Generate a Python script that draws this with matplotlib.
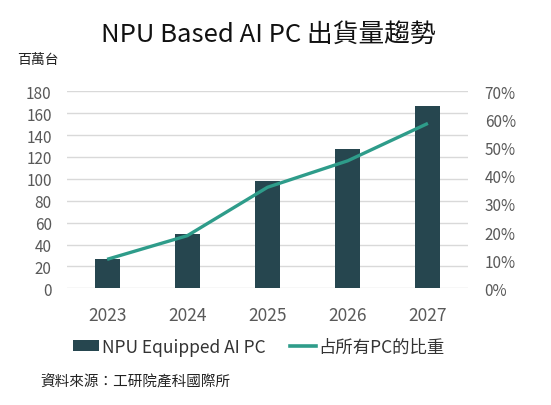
import matplotlib
matplotlib.use("Agg")
import matplotlib.pyplot as plt
from matplotlib.patches import Patch
from matplotlib.lines import Line2D

plt.rcParams['font.family'] = ['Noto Sans CJK TC', 'DejaVu Sans']

years = ["2023", "2024", "2025", "2026", "2027"]
shipments = [27, 50, 98, 127, 167]          # 百萬台
share = [10.3, 18.7, 35.9, 45.3, 58.6]      # %
left_ticks = [0, 20, 40, 60, 80, 100, 120, 140, 160, 180]
right_ticks = [0, 10, 20, 30, 40, 50, 60, 70]
right_labels = [f"{v}%" for v in right_ticks]

bar_color = "#26464F"
line_color = "#2E9C8A"
tick_color = "#595959"

fig = plt.figure(figsize=(5.51, 4.06), dpi=100)
ax = fig.add_axes([0.1216, 0.2874, 0.7278, 0.4853])
x = list(range(len(years)))
ax.bar(x, shipments, width=0.31, color=bar_color, zorder=3)
ax.set_xlim(-0.5, len(years) - 0.5)
ax.set_ylim(0, 180)
ax.set_yticks(left_ticks)
ax.set_xticks(x)
ax.set_xticklabels(years)
ax.grid(axis='y', color="#D9D9D9", linewidth=1.0, zorder=0)
for s in ax.spines.values():
    s.set_visible(False)
ax.tick_params(axis='y', length=0, pad=11, labelsize=11, labelcolor=tick_color)
ax.tick_params(axis='x', length=0, pad=13, labelsize=12.5, labelcolor=tick_color)

ax2 = ax.twinx()
ax2.plot(x, share, color=line_color, linewidth=2.4, zorder=4, solid_capstyle='butt')
ax2.set_ylim(0, 70)
ax2.set_yticks(right_ticks)
ax2.set_yticklabels(right_labels)
for s in ax2.spines.values():
    s.set_visible(False)
ax2.tick_params(axis='y', length=0, pad=12, labelsize=11, labelcolor=tick_color)

fig.text(0.487, 0.915, "NPU Based AI PC 出貨量趨勢", ha='center', va='center',
         fontsize=18.5, fontweight='medium', color="#111111")
fig.text(0.031, 0.852, "百萬台", ha='left', va='center', fontsize=10, color="#222222")
fig.text(0.073, 0.059, "資料來源：工研院產科國際所", ha='left', va='center',
         fontsize=10.5, color="#222222")

handles = [Patch(facecolor=bar_color, edgecolor='none'),
           Line2D([0], [0], color=line_color, linewidth=2.6)]
labels = ["NPU Equipped AI PC", "占所有PC的比重"]
fig.legend(handles, labels, loc='center', bbox_to_anchor=(0.47, 0.143), ncol=2,
           frameon=False, fontsize=12.5, handlelength=1.5, handleheight=0.6,
           handletextpad=0.15, columnspacing=1.4, labelcolor="#333333")

fig.savefig("out.png", dpi=100, facecolor="white")
